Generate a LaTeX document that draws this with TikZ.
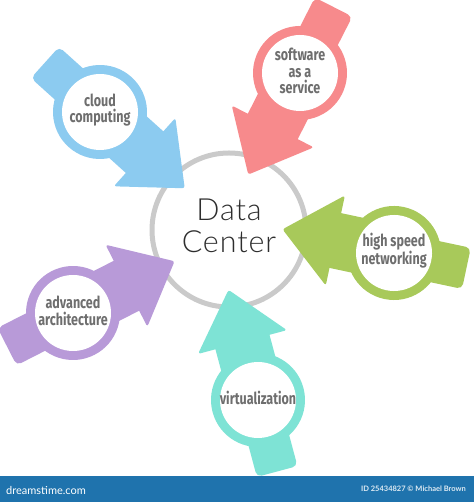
\documentclass[tikz,border=0pt]{standalone}
\usepackage{fontspec}
\newfontfamily\lblfont[FakeStretch=0.76]{Fira Sans}
\newfontfamily\thinfont{Lato}[UprightFont={* Light},LetterSpace=3]
\newfontfamily\footfont{Lato}
\definecolor{cblue}{HTML}{8CCBF0}
\definecolor{cpink}{HTML}{F78A8C}
\definecolor{cgreen}{HTML}{A8C95A}
\definecolor{cteal}{HTML}{7EE3D5}
\definecolor{cpurple}{HTML}{B89AD8}
\definecolor{ringgray}{HTML}{CACACA}
\definecolor{lblgray}{HTML}{6E6E6E}
\definecolor{footblue}{HTML}{1F73AD}
\tikzset{
  lbl/.style={align=center, text=lblgray, font=\lblfont\bfseries\fontsize{16.5}{16.5}\selectfont, inner sep=0pt},
  title/.style={align=center, text=black!82, font=\thinfont\fontsize{30.5}{32}\selectfont, inner sep=0pt},
}
\newcommand{\dcelem}[6]{%
  \begin{scope}[shift={(#2,502-#3)}, rotate=#4]
    \fill[#5, rounded corners=5pt] (-74,-21) rectangle (0,21);
    \fill[#5] (0,-28) rectangle (61,28);
    \fill[#5, rounded corners=2.5pt] (60,-46) -- (114,0) -- (60,46) -- cycle;
    \fill[#5] (0,0) circle[radius=47];
    \fill[white] (0,0) circle[radius=38];
  \end{scope}
  \node[lbl] (#1) at (#2,502-#3+2) {#6};
}
\begin{document}
\begin{tikzpicture}[x=1pt,y=1pt]
\useasboundingbox (0,0) rectangle (474,502);
\fill[white] (0,0) rectangle (474,502);
% central circle
\draw[ringgray, line width=5pt] (229,502-230) circle[radius=77];
\node[title] (dc) at (229,502-226) {Data\\Center};
% elements
\dcelem{cloud}{100}{112}{-42}{cblue}{cloud\\computing}
\dcelem{saas}{300}{73}{-117}{cpink}{software\\as a\\service}
\dcelem{net}{394}{253}{168}{cgreen}{high speed\\networking}
\dcelem{virt}{258}{400}{105}{cteal}{virtualization}
\dcelem{arch}{73}{313}{27}{cpurple}{advanced\\architecture}
% footer
\fill[footblue] (0,0) rectangle (474,26);
\node[anchor=west, text=white, font=\footfont\fontsize{11}{11}\selectfont, inner sep=0pt] (ds) at (6,12) {dreamstime.com};
\node[anchor=east, text=white!85!footblue, font=\footfont\bfseries\fontsize{7.5}{8}\selectfont, inner sep=0pt] (id) at (466,13) {ID 25434827 \textcopyright{} Michael Brown};
\end{tikzpicture}
\end{document}
